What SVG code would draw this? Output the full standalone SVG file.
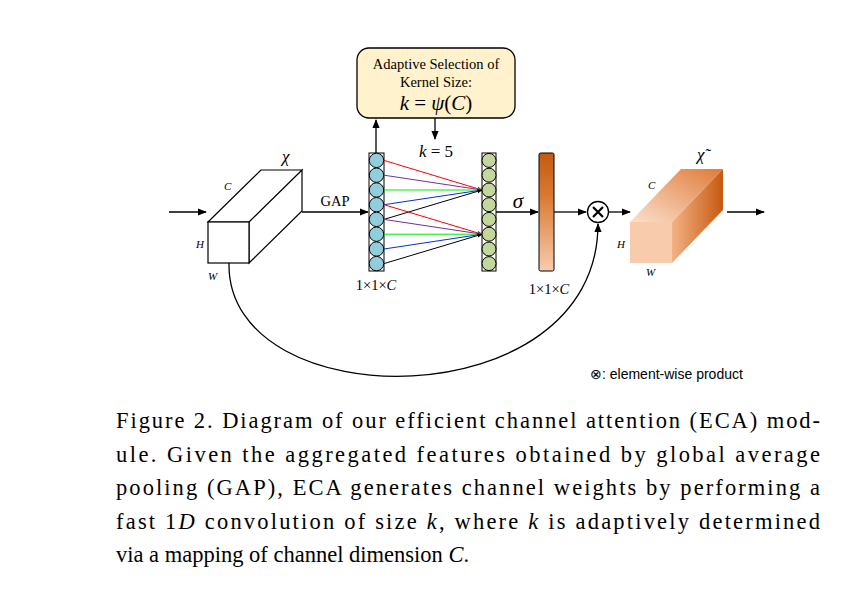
<svg xmlns="http://www.w3.org/2000/svg" width="860" height="606" viewBox="0 0 860 606">
<style>
.t{font-family:"Liberation Serif",serif;fill:#000}
.i{font-style:italic}
.ln{stroke:#000;stroke-width:1.3;fill:none}
.c1{fill:#92cddc;stroke:#000;stroke-width:1}
.c2{fill:#c3d69b;stroke:#000;stroke-width:1}
</style>
<defs>
<marker id="a" viewBox="0 0 10 10" refX="9" refY="5" markerWidth="7" markerHeight="7" orient="auto"><path d="M0,1 L10,5 L0,9 z" fill="#000"/></marker>
<marker id="s" viewBox="0 0 10 10" refX="9" refY="5" markerWidth="5" markerHeight="5" orient="auto-start-reverse"><path d="M0,1 L10,5 L0,9 z" fill="context-stroke"/></marker>
<linearGradient id="og" x1="0" y1="0" x2="0" y2="1"><stop offset="0" stop-color="#c55a11"/><stop offset="0.35" stop-color="#d9782f"/><stop offset="1" stop-color="#f8cbad"/></linearGradient>
<linearGradient id="side" x1="0" y1="0" x2="1" y2="0"><stop offset="0" stop-color="#f4b183"/><stop offset="1" stop-color="#c55a11"/></linearGradient>
<linearGradient id="top" x1="0" y1="1" x2="1" y2="0"><stop offset="0" stop-color="#fbe0cc"/><stop offset="1" stop-color="#e07b39"/></linearGradient>
</defs>
<rect width="860" height="606" fill="#fff"/>
<g id="selbox">
<rect x="357" y="48" width="158" height="70" rx="12" fill="#fff2cc" stroke="#000" stroke-width="1.3"/>
<text class="t" x="436" y="69" font-size="14.5" text-anchor="middle">Adaptive Selection of</text>
<text class="t" x="436" y="87" font-size="14.5" text-anchor="middle">Kernel Size:</text>
<text class="t" x="436" y="110" font-size="21" text-anchor="middle"><tspan class="i">k</tspan> = <tspan class="i">ψ</tspan>(<tspan class="i">C</tspan>)</text>
</g>
<g id="input">
<path d="M208,222 L261,170 L302,170 L249,222 Z M249,222 L302,170 L302,211 L249,263 Z" fill="#fff" stroke="#000" stroke-width="1.2"/>
<rect x="208" y="222" width="41" height="41" fill="#fff" stroke="#000" stroke-width="1.2"/>
<text class="t i" x="282" y="162" font-size="17">χ</text>
<text class="t i" x="224" y="190" font-size="11">C</text>
<text class="t i" x="196" y="248" font-size="11">H</text>
<text class="t i" x="208" y="280" font-size="11">W</text>
</g>
<g id="col1">
<rect x="369" y="153" width="15" height="118" fill="#fff" stroke="#000"/>
<g class="c1"><circle cx="376.5" cy="160.4" r="7.2"/><circle cx="376.5" cy="175.2" r="7.2"/><circle cx="376.5" cy="190" r="7.2"/><circle cx="376.5" cy="204.7" r="7.2"/><circle cx="376.5" cy="219.4" r="7.2"/><circle cx="376.5" cy="234.2" r="7.2"/><circle cx="376.5" cy="249" r="7.2"/><circle cx="376.5" cy="263.6" r="7.2"/></g>
<text class="t" x="376" y="290" font-size="14.5" text-anchor="middle">1×1×<tspan class="i">C</tspan></text>
</g>
<g id="col2">
<rect x="482" y="153" width="14" height="118" fill="#fff" stroke="#000"/>
<g class="c2"><circle cx="489" cy="160.4" r="7"/><circle cx="489" cy="175.2" r="7"/><circle cx="489" cy="190" r="7"/><circle cx="489" cy="204.7" r="7"/><circle cx="489" cy="219.4" r="7"/><circle cx="489" cy="234.2" r="7"/><circle cx="489" cy="249" r="7"/><circle cx="489" cy="263.6" r="7"/></g>
</g>
<g id="bar">
<rect x="539" y="153" width="15" height="118" rx="1.5" fill="url(#og)" stroke="#000"/>
<text class="t" x="549" y="294" font-size="14.5" text-anchor="middle">1×1×<tspan class="i">C</tspan></text>
</g>
<g id="mult">
<circle cx="598" cy="212" r="10.5" fill="#fff" stroke="#000" stroke-width="1.3"/>
<path d="M593,207 L603,217 M603,207 L593,217" stroke="#000" stroke-width="2.2"/>
</g>
<g id="output">
<path d="M630,222 L681,169 L723,169 L672,222 Z" fill="url(#top)"/>
<path d="M672,222 L723,169 L723,210 L672,263 Z" fill="url(#side)"/>
<path d="M678,216 L728,164 M684,210 L728,164 M690,204 M696,198 M702,191" stroke="none"/>
<rect x="630" y="222" width="42" height="41" fill="#f8cbad"/>
<text class="t i" x="697" y="160" font-size="17">χ̃</text>
<text class="t i" x="648" y="189" font-size="11">C</text>
<text class="t i" x="617" y="248" font-size="11">H</text>
<text class="t i" x="646" y="276" font-size="11">W</text>
</g>
<g id="connectors">
<path class="ln" d="M169,212 L206,212" marker-end="url(#a)"/>
<path class="ln" d="M302,212 L368,212" marker-end="url(#a)"/>
<text class="t" x="335" y="206" font-size="14.5" text-anchor="middle">GAP</text>
<path class="ln" d="M376,153 L376,120" marker-end="url(#a)"/>
<path class="ln" d="M435,118 L435,139" marker-end="url(#a)"/>
<text class="t" x="436" y="157" font-size="17" text-anchor="middle"><tspan class="i">k</tspan> = 5</text>
<g stroke-width="1" fill="none">
<path d="M384,160.4 L482,190" stroke="#ff0000" marker-end="url(#s)"/>
<path d="M384,175.2 L482,190" stroke="#7030a0" marker-end="url(#s)"/>
<path d="M384,190 L482,190" stroke="#00ee00" marker-end="url(#s)"/>
<path d="M384,204.7 L482,190" stroke="#0033cc" marker-end="url(#s)"/>
<path d="M384,219.4 L482,190" stroke="#000" marker-end="url(#s)"/>
<path d="M384,204.7 L482,234.2" stroke="#ff0000" marker-end="url(#s)"/>
<path d="M384,219.4 L482,234.2" stroke="#7030a0" marker-end="url(#s)"/>
<path d="M384,234.2 L482,234.2" stroke="#00ee00" marker-end="url(#s)"/>
<path d="M384,249 L482,234.2" stroke="#0033cc" marker-end="url(#s)"/>
<path d="M384,263.6 L482,234.2" stroke="#000" marker-end="url(#s)"/>
</g>
<path class="ln" d="M496,212 L538,212" marker-end="url(#a)"/>
<text class="t i" x="518" y="208" font-size="21" text-anchor="middle">σ</text>
<path class="ln" d="M554,212 L586,212" marker-end="url(#a)"/>
<path class="ln" d="M609,212 L630,212" marker-end="url(#a)"/>
<path class="ln" d="M727,212 L764,212" marker-end="url(#a)"/>
<path class="ln" d="M229,263 C226,420 598,420 598,224" marker-end="url(#a)"/>
</g>
<text x="590" y="379" font-family="Liberation Sans,sans-serif" font-size="14">⊗: element-wise product</text>
<g class="t" font-size="22.5">
<text x="116" y="428" textLength="704" lengthAdjust="spacing">Figure 2. Diagram of our efficient channel attention (ECA) mod-</text>
<text x="116" y="462" textLength="704" lengthAdjust="spacing">ule.  Given the aggregated features obtained by global average</text>
<text x="116" y="495" textLength="704" lengthAdjust="spacing">pooling (GAP), ECA generates channel weights by performing a</text>
<text x="116" y="529" textLength="704" lengthAdjust="spacing">fast 1<tspan class="i">D</tspan> convolution of size <tspan class="i">k</tspan>, where <tspan class="i">k</tspan> is adaptively determined</text>
<text x="116" y="562">via a mapping of channel dimension <tspan class="i">C</tspan>.</text>
</g>
</svg>
